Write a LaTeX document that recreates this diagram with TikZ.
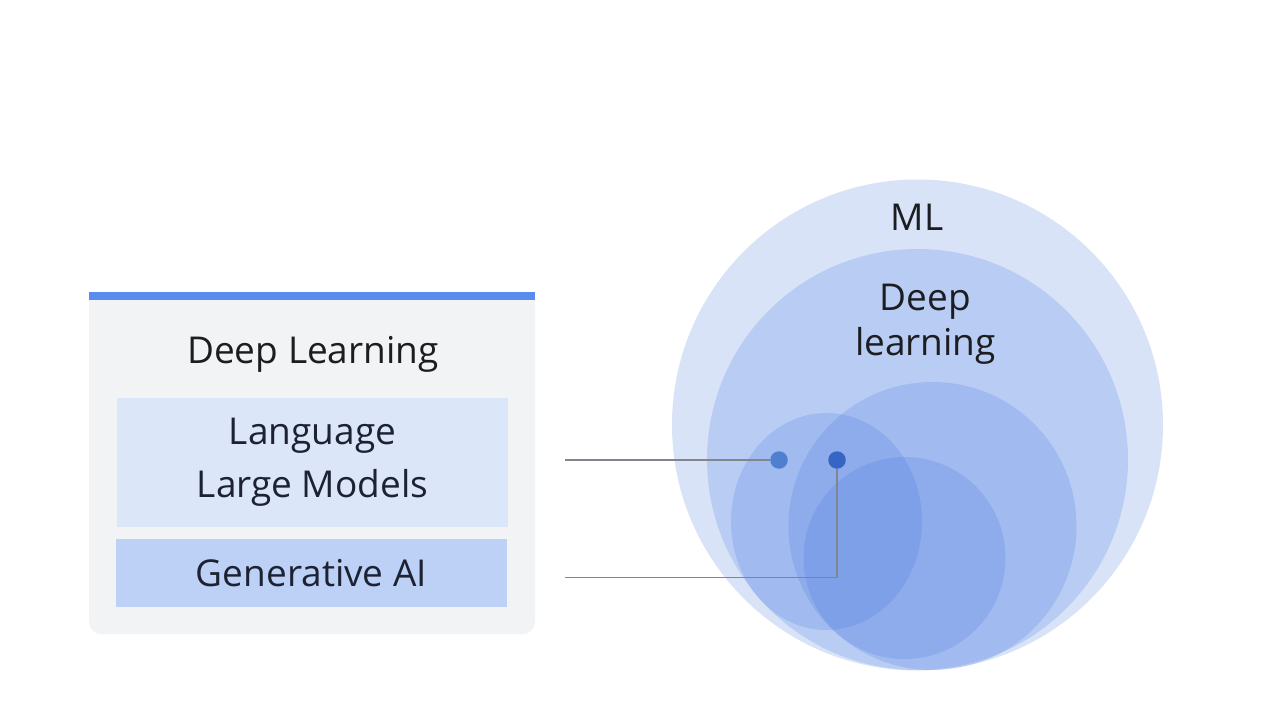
\documentclass[tikz,border=0pt]{standalone}
\usepackage{fontspec}
\setmainfont{Open Sans}
\definecolor{panelgray}{RGB}{241,243,244}
\definecolor{barblue}{RGB}{90,140,238}
\definecolor{llmfill}{RGB}{220,230,249}
\definecolor{genfill}{RGB}{189,208,246}
\definecolor{bubblue}{RGB}{68,118,224}
\definecolor{txtdark}{RGB}{28,29,32}
\definecolor{txtnavy}{RGB}{28,34,50}
\definecolor{linegray}{RGB}{128,134,139}
\definecolor{dotone}{RGB}{79,127,207}
\definecolor{dottwo}{RGB}{53,102,196}
\tikzset{
  bubble/.style={fill=bubblue, fill opacity=0.205, draw=none},
  label/.style={font=\fontsize{37}{45}\selectfont, text=txtdark, inner sep=0pt},
  boxnode/.style={draw=none, inner sep=0pt, text=txtnavy, align=center},
  dotnode/.style={circle, minimum size=17.5pt, inner sep=0pt, draw=none},
  connector/.style={draw=linegray, line width=1.9pt}
}
\begin{document}
\begin{tikzpicture}[x=1pt,y=-1pt]
\useasboundingbox (0,0) rectangle (1280,709);
\fill[white] (0,0) rectangle (1280,709);
% left panel
\fill[panelgray, rounded corners=12pt] (89,292) rectangle (535,634);
\fill[panelgray] (89,292) rectangle (535,330);
\fill[barblue] (89,292) rectangle (535,300);
\node[label, anchor=base] (dltitle) at (313,363) {Deep Learning};
\node[boxnode, fill=llmfill, minimum width=391pt, minimum height=129pt,
      font=\fontsize{37}{53}\selectfont] (llm) at (312.5,462.5) {Language\\Large Models};
\node[boxnode, fill=genfill, minimum width=391pt, minimum height=68pt,
      font=\fontsize{37}{45}\selectfont] (gen) at (311.5,573) {Generative AI};
% circles
\fill[bubble] (917.5,425) circle[radius=245.5pt];
\fill[bubble] (917.5,459.5) circle[radius=210.5pt];
\fill[bubble] (932.5,526) circle[radius=144pt];
\fill[bubble] (826.5,521.5) ellipse[x radius=95.5pt, y radius=108.5pt];
\fill[bubble] (904.5,558) circle[radius=101pt];
\node[label, anchor=base] (ml) at (917,230) {ML};
\node[label, align=center, font=\fontsize{37}{45}\selectfont] (dlc) at (925.5,324) {Deep\\learning};
% dots and connectors
\node[dotnode, fill=dotone] (d1) at (779,460) {};
\node[dotnode, fill=dottwo] (d2) at (837,460) {};
\coordinate (c1) at (565,460);
\coordinate (c2) at (565,577.5);
\draw[connector] (c1) -- (d1);
\draw[connector] (c2) -| (d2);
\end{tikzpicture}
\end{document}
